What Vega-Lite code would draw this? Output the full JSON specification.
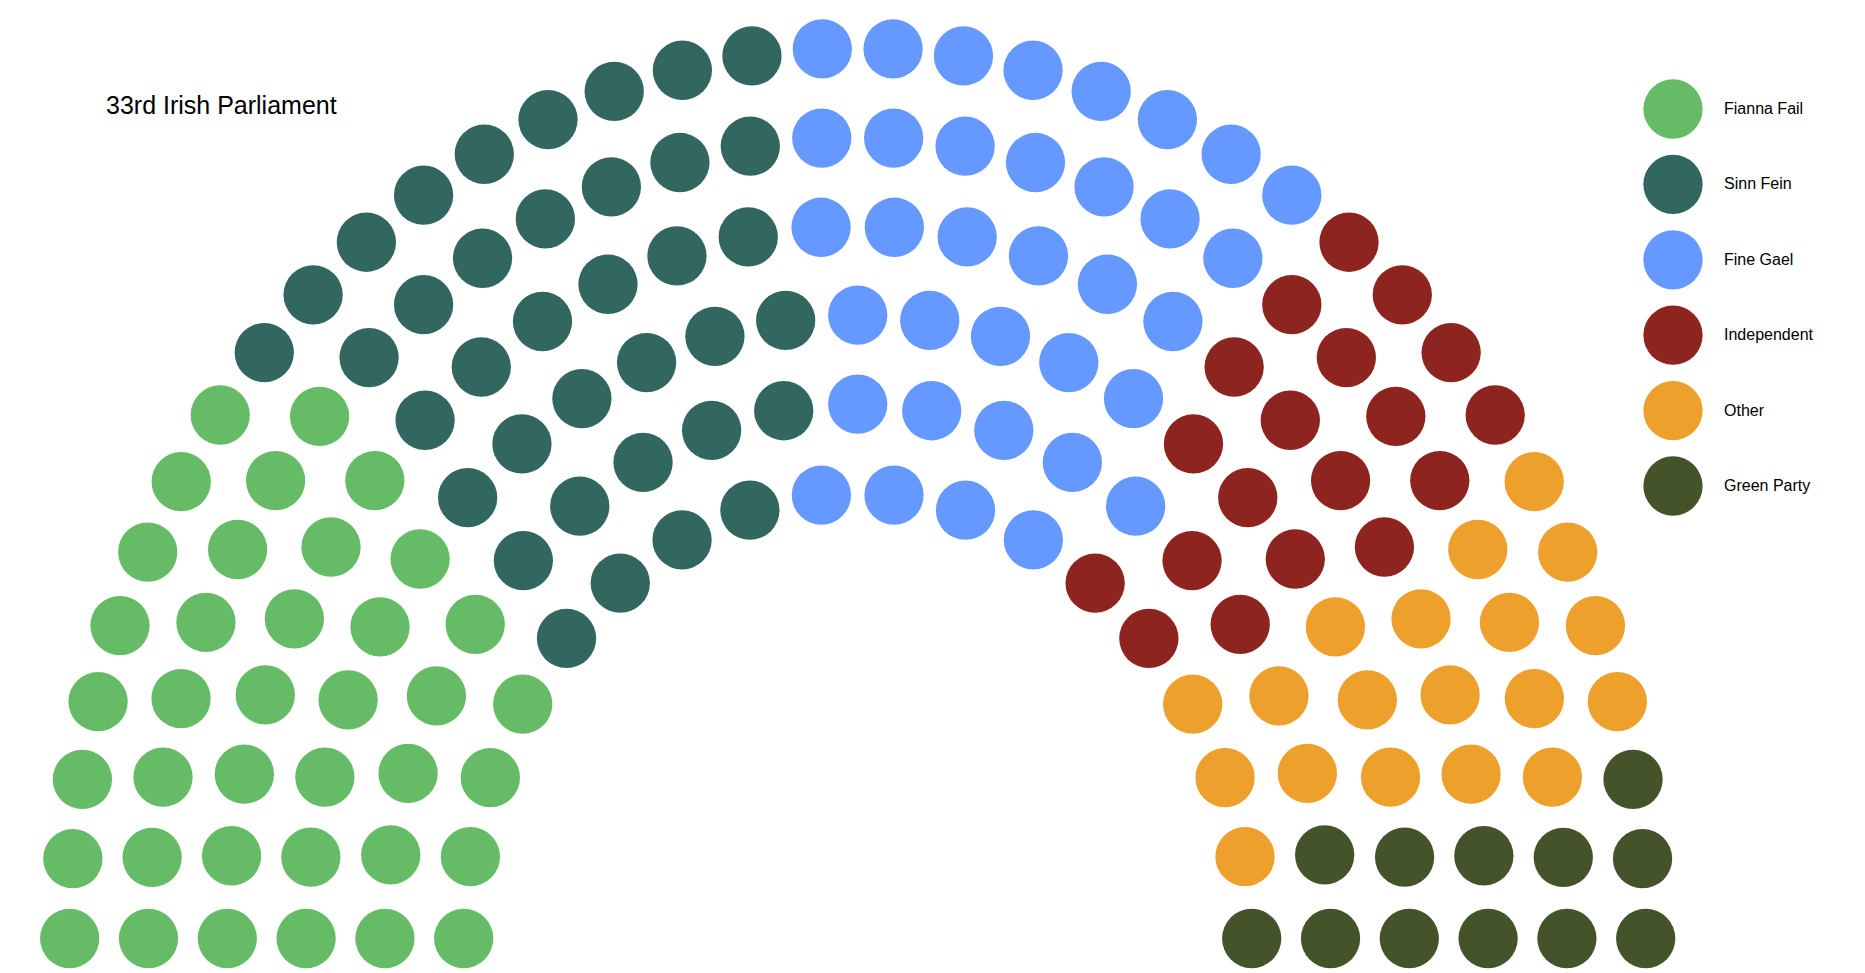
{
  "$schema": "https://vega.github.io/schema/vega-lite/v6.json",
  "width": 1865,
  "height": 973,
  "autosize": "none",
  "padding": 0,
  "background": "white",
  "title": {
    "text": "33rd Irish Parliament",
    "anchor": "start",
    "frame": "group",
    "orient": "top",
    "offset": 0,
    "dx": 106,
    "dy": 139,
    "baseline": "alphabetic",
    "font": "Liberation Sans",
    "fontSize": 25,
    "fontWeight": "normal",
    "color": "#000000"
  },
  "data": {
    "values": [
      {"party": "Fianna Fail", "x": -0.5, "y": 0},
      {"party": "Fianna Fail", "x": -0.4915, "y": 0.0919},
      {"party": "Fianna Fail", "x": -0.4662, "y": 0.1806},
      {"party": "Fianna Fail", "x": -0.4251, "y": 0.2632},
      {"party": "Fianna Fail", "x": -0.6, "y": 0},
      {"party": "Fianna Fail", "x": -0.5926, "y": 0.0939},
      {"party": "Fianna Fail", "x": -0.5706, "y": 0.1854},
      {"party": "Fianna Fail", "x": -0.5346, "y": 0.2724},
      {"party": "Fianna Fail", "x": -0.4854, "y": 0.3527},
      {"party": "Fianna Fail", "x": -0.7, "y": 0},
      {"party": "Fianna Fail", "x": -0.694, "y": 0.0914},
      {"party": "Fianna Fail", "x": -0.6762, "y": 0.1812},
      {"party": "Fianna Fail", "x": -0.6467, "y": 0.2679},
      {"party": "Fianna Fail", "x": -0.6062, "y": 0.35},
      {"party": "Fianna Fail", "x": -0.5553, "y": 0.4261},
      {"party": "Fianna Fail", "x": -0.8, "y": 0},
      {"party": "Fianna Fail", "x": -0.7946, "y": 0.0929},
      {"party": "Fianna Fail", "x": -0.7784, "y": 0.1845},
      {"party": "Fianna Fail", "x": -0.7518, "y": 0.2736},
      {"party": "Fianna Fail", "x": -0.7149, "y": 0.359},
      {"party": "Fianna Fail", "x": -0.6684, "y": 0.4396},
      {"party": "Fianna Fail", "x": -0.6128, "y": 0.5142},
      {"party": "Fianna Fail", "x": -0.9, "y": 0},
      {"party": "Fianna Fail", "x": -0.8954, "y": 0.091},
      {"party": "Fianna Fail", "x": -0.8816, "y": 0.1812},
      {"party": "Fianna Fail", "x": -0.8587, "y": 0.2694},
      {"party": "Fianna Fail", "x": -0.8271, "y": 0.3549},
      {"party": "Fianna Fail", "x": -0.7869, "y": 0.4368},
      {"party": "Fianna Fail", "x": -0.7387, "y": 0.5142},
      {"party": "Fianna Fail", "x": -0.6829, "y": 0.5862},
      {"party": "Fianna Fail", "x": -1, "y": 0},
      {"party": "Fianna Fail", "x": -0.996, "y": 0.0896},
      {"party": "Fianna Fail", "x": -0.9839, "y": 0.1786},
      {"party": "Fianna Fail", "x": -0.964, "y": 0.266},
      {"party": "Fianna Fail", "x": -0.9362, "y": 0.3514},
      {"party": "Fianna Fail", "x": -0.901, "y": 0.4339},
      {"party": "Fianna Fail", "x": -0.8585, "y": 0.5129},
      {"party": "Fianna Fail", "x": -0.809, "y": 0.5878},

      {"party": "Sinn Fein", "x": -0.3695, "y": 0.3369},
      {"party": "Sinn Fein", "x": -0.3013, "y": 0.399},
      {"party": "Sinn Fein", "x": -0.2229, "y": 0.4476},
      {"party": "Sinn Fein", "x": -0.1368, "y": 0.4809},
      {"party": "Sinn Fein", "x": -0.4243, "y": 0.4243},
      {"party": "Sinn Fein", "x": -0.3527, "y": 0.4854},
      {"party": "Sinn Fein", "x": -0.2724, "y": 0.5346},
      {"party": "Sinn Fein", "x": -0.1854, "y": 0.5706},
      {"party": "Sinn Fein", "x": -0.0939, "y": 0.5926},
      {"party": "Sinn Fein", "x": -0.495, "y": 0.495},
      {"party": "Sinn Fein", "x": -0.4261, "y": 0.5553},
      {"party": "Sinn Fein", "x": -0.35, "y": 0.6062},
      {"party": "Sinn Fein", "x": -0.2679, "y": 0.6467},
      {"party": "Sinn Fein", "x": -0.1812, "y": 0.6762},
      {"party": "Sinn Fein", "x": -0.0914, "y": 0.694},
      {"party": "Sinn Fein", "x": -0.549, "y": 0.5819},
      {"party": "Sinn Fein", "x": -0.4777, "y": 0.6417},
      {"party": "Sinn Fein", "x": -0.4, "y": 0.6928},
      {"party": "Sinn Fein", "x": -0.3169, "y": 0.7346},
      {"party": "Sinn Fein", "x": -0.2294, "y": 0.7664},
      {"party": "Sinn Fein", "x": -0.1389, "y": 0.7878},
      {"party": "Sinn Fein", "x": -0.6201, "y": 0.6523},
      {"party": "Sinn Fein", "x": -0.5509, "y": 0.7117},
      {"party": "Sinn Fein", "x": -0.4761, "y": 0.7638},
      {"party": "Sinn Fein", "x": -0.3964, "y": 0.808},
      {"party": "Sinn Fein", "x": -0.3126, "y": 0.844},
      {"party": "Sinn Fein", "x": -0.2256, "y": 0.8713},
      {"party": "Sinn Fein", "x": -0.1363, "y": 0.8896},
      {"party": "Sinn Fein", "x": -0.7531, "y": 0.6579},
      {"party": "Sinn Fein", "x": -0.6911, "y": 0.7228},
      {"party": "Sinn Fein", "x": -0.6235, "y": 0.7818},
      {"party": "Sinn Fein", "x": -0.5509, "y": 0.8346},
      {"party": "Sinn Fein", "x": -0.4739, "y": 0.8806},
      {"party": "Sinn Fein", "x": -0.393, "y": 0.9195},
      {"party": "Sinn Fein", "x": -0.309, "y": 0.9511},
      {"party": "Sinn Fein", "x": -0.2225, "y": 0.9749},
      {"party": "Sinn Fein", "x": -0.1342, "y": 0.991},

      {"party": "Fine Gael", "x": -0.0461, "y": 0.4979},
      {"party": "Fine Gael", "x": 0.0461, "y": 0.4979},
      {"party": "Fine Gael", "x": 0.1368, "y": 0.4809},
      {"party": "Fine Gael", "x": 0.2229, "y": 0.4476},
      {"party": "Fine Gael", "x": 0, "y": 0.6},
      {"party": "Fine Gael", "x": 0.0939, "y": 0.5926},
      {"party": "Fine Gael", "x": 0.1854, "y": 0.5706},
      {"party": "Fine Gael", "x": 0.2724, "y": 0.5346},
      {"party": "Fine Gael", "x": 0.3527, "y": 0.4854},
      {"party": "Fine Gael", "x": 0, "y": 0.7},
      {"party": "Fine Gael", "x": 0.0914, "y": 0.694},
      {"party": "Fine Gael", "x": 0.1812, "y": 0.6762},
      {"party": "Fine Gael", "x": 0.2679, "y": 0.6467},
      {"party": "Fine Gael", "x": 0.35, "y": 0.6062},
      {"party": "Fine Gael", "x": -0.0465, "y": 0.7986},
      {"party": "Fine Gael", "x": 0.0465, "y": 0.7986},
      {"party": "Fine Gael", "x": 0.1389, "y": 0.7878},
      {"party": "Fine Gael", "x": 0.2294, "y": 0.7664},
      {"party": "Fine Gael", "x": 0.3169, "y": 0.7346},
      {"party": "Fine Gael", "x": 0.4, "y": 0.6928},
      {"party": "Fine Gael", "x": -0.0456, "y": 0.8988},
      {"party": "Fine Gael", "x": 0.0456, "y": 0.8988},
      {"party": "Fine Gael", "x": 0.1363, "y": 0.8896},
      {"party": "Fine Gael", "x": 0.2256, "y": 0.8713},
      {"party": "Fine Gael", "x": 0.3126, "y": 0.844},
      {"party": "Fine Gael", "x": 0.3964, "y": 0.808},
      {"party": "Fine Gael", "x": 0.4761, "y": 0.7638},
      {"party": "Fine Gael", "x": -0.0449, "y": 0.999},
      {"party": "Fine Gael", "x": 0.0449, "y": 0.999},
      {"party": "Fine Gael", "x": 0.1342, "y": 0.991},
      {"party": "Fine Gael", "x": 0.2225, "y": 0.9749},
      {"party": "Fine Gael", "x": 0.309, "y": 0.9511},
      {"party": "Fine Gael", "x": 0.393, "y": 0.9195},
      {"party": "Fine Gael", "x": 0.4739, "y": 0.8806},
      {"party": "Fine Gael", "x": 0.5509, "y": 0.8346},

      {"party": "Independent", "x": 0.3013, "y": 0.399},
      {"party": "Independent", "x": 0.3695, "y": 0.3369},
      {"party": "Independent", "x": 0.4243, "y": 0.4243},
      {"party": "Independent", "x": 0.4854, "y": 0.3527},
      {"party": "Independent", "x": 0.4261, "y": 0.5553},
      {"party": "Independent", "x": 0.495, "y": 0.495},
      {"party": "Independent", "x": 0.5553, "y": 0.4261},
      {"party": "Independent", "x": 0.4777, "y": 0.6417},
      {"party": "Independent", "x": 0.549, "y": 0.5819},
      {"party": "Independent", "x": 0.6128, "y": 0.5142},
      {"party": "Independent", "x": 0.6684, "y": 0.4396},
      {"party": "Independent", "x": 0.5509, "y": 0.7117},
      {"party": "Independent", "x": 0.6201, "y": 0.6523},
      {"party": "Independent", "x": 0.6829, "y": 0.5862},
      {"party": "Independent", "x": 0.7387, "y": 0.5142},
      {"party": "Independent", "x": 0.6235, "y": 0.7818},
      {"party": "Independent", "x": 0.6911, "y": 0.7228},
      {"party": "Independent", "x": 0.7531, "y": 0.6579},
      {"party": "Independent", "x": 0.809, "y": 0.5878},

      {"party": "Other", "x": 0.4251, "y": 0.2632},
      {"party": "Other", "x": 0.4662, "y": 0.1806},
      {"party": "Other", "x": 0.4915, "y": 0.0919},
      {"party": "Other", "x": 0.5346, "y": 0.2724},
      {"party": "Other", "x": 0.5706, "y": 0.1854},
      {"party": "Other", "x": 0.6062, "y": 0.35},
      {"party": "Other", "x": 0.6467, "y": 0.2679},
      {"party": "Other", "x": 0.6762, "y": 0.1812},
      {"party": "Other", "x": 0.7149, "y": 0.359},
      {"party": "Other", "x": 0.7518, "y": 0.2736},
      {"party": "Other", "x": 0.7784, "y": 0.1845},
      {"party": "Other", "x": 0.7869, "y": 0.4368},
      {"party": "Other", "x": 0.8271, "y": 0.3549},
      {"party": "Other", "x": 0.8587, "y": 0.2694},
      {"party": "Other", "x": 0.8816, "y": 0.1812},
      {"party": "Other", "x": 0.8585, "y": 0.5129},
      {"party": "Other", "x": 0.901, "y": 0.4339},
      {"party": "Other", "x": 0.9362, "y": 0.3514},
      {"party": "Other", "x": 0.964, "y": 0.266},

      {"party": "Green Party", "x": 0.5, "y": 0},
      {"party": "Green Party", "x": 0.5926, "y": 0.0939},
      {"party": "Green Party", "x": 0.6, "y": 0},
      {"party": "Green Party", "x": 0.694, "y": 0.0914},
      {"party": "Green Party", "x": 0.7, "y": 0},
      {"party": "Green Party", "x": 0.7946, "y": 0.0929},
      {"party": "Green Party", "x": 0.8, "y": 0},
      {"party": "Green Party", "x": 0.8954, "y": 0.091},
      {"party": "Green Party", "x": 0.9, "y": 0},
      {"party": "Green Party", "x": 0.9839, "y": 0.1786},
      {"party": "Green Party", "x": 0.996, "y": 0.0896},
      {"party": "Green Party", "x": 1, "y": 0}
    ]
  },
  "mark": {"type": "point", "filled": true, "opacity": 1, "size": 3516, "strokeWidth": 0},
  "encoding": {
    "x": {
      "field": "x",
      "type": "quantitative",
      "axis": null,
      "scale": {"domain": [-1.088452, 1.278299], "nice": false, "zero": false}
    },
    "y": {
      "field": "y",
      "type": "quantitative",
      "axis": null,
      "scale": {"domain": [-0.038738, 1.053784], "nice": false, "zero": false}
    },
    "color": {
      "field": "party",
      "type": "nominal",
      "scale": {
        "domain": ["Fianna Fail", "Sinn Fein", "Fine Gael", "Independent", "Other", "Green Party"],
        "range": ["#66BB66", "#326760", "#6699FF", "#8E2420", "#EEA02C", "#44532A"]
      },
      "legend": {
        "title": null,
        "orient": "none",
        "legendX": 1643,
        "legendY": 79,
        "padding": 0,
        "symbolType": "circle",
        "symbolSize": 3516,
        "symbolStrokeWidth": 0,
        "symbolOpacity": 1,
        "rowPadding": 15.4,
        "labelOffset": 21,
        "labelFont": "Liberation Sans",
        "labelFontSize": 16,
        "labelColor": "#000000",
        "labelLimit": 300
      }
    }
  },
  "config": {
    "view": {"stroke": null}
  }
}
